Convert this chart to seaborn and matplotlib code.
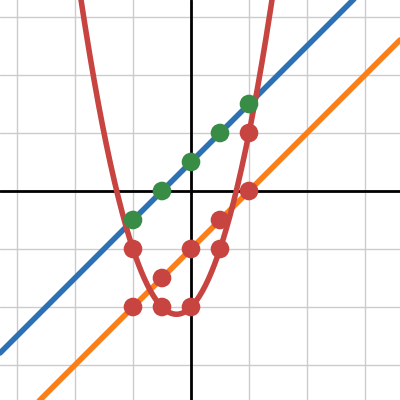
import numpy as np
import matplotlib
matplotlib.use("Agg")
import matplotlib.pyplot as plt
import seaborn as sns

green_x = [-1, -0.5, 0, 0.5, 1]
green_y = [-0.5, 0, 0.5, 1, 1.5]
red_x = [-1, -0.5, 0, 0.5, 1, -1, -0.5, 0, 0.5, 1]
red_y = [-1, -2, -2, -1, 1, -2, -1.5, -1, -0.5, 0]

sns.set_style("white")
fig = plt.figure(figsize=(4, 4), dpi=100)
ax = fig.add_axes([0, 0, 1, 1])
x0, x1 = -191/58, 209/58
y0, y1 = -209/58, 191/58
for g in np.arange(-3, 4):
    ax.axvline(g, color="#cccccc", lw=1, zorder=0)
    ax.axhline(g, color="#cccccc", lw=1, zorder=0)
ax.axvline(0, color="black", lw=2, zorder=1)
ax.axhline(0, color="black", lw=2, zorder=1)
xs = np.linspace(x0, x1, 400)
sns.lineplot(x=xs, y=xs + 0.5, color="#2d70b3", lw=4, ax=ax, zorder=2)
sns.lineplot(x=xs, y=xs - 1, color="#fa7e19", lw=4, ax=ax, zorder=2)
sns.lineplot(x=xs, y=2*xs**2 + xs - 2, color="#c74440", lw=4, ax=ax, zorder=2)
sns.scatterplot(x=green_x, y=green_y, color="#388c46", s=180, edgecolor="none", ax=ax, zorder=3)
sns.scatterplot(x=red_x, y=red_y, color="#c74440", s=180, edgecolor="none", ax=ax, zorder=3)
ax.set_xlim(x0, x1)
ax.set_ylim(y0, y1)
ax.set_xticks([]); ax.set_yticks([])
for s in ax.spines.values():
    s.set_visible(False)
fig.savefig("out.png", dpi=100)
